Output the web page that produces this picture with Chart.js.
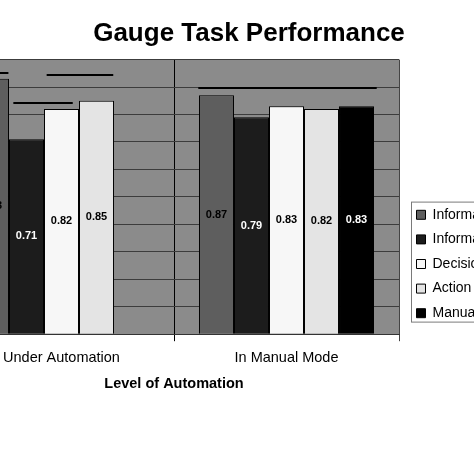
<!DOCTYPE html>
<html>
<head>
<meta charset="utf-8">
<script src="https://cdn.jsdelivr.net/npm/chart.js@4.4.1/dist/chart.umd.min.js"></script>
<style>
  html, body { margin: 0; padding: 0; background: #fff; overflow: hidden; width: 474px; height: 474px; }
  #wrap { position: relative; width: 474px; height: 474px; overflow: hidden; }
  #c { position: absolute; left: -51px; top: 0; }
</style>
</head>
<body>
<div id="wrap"><canvas id="c" width="600" height="474"></canvas></div>
<script>
// ---- data ----
const categories = ['Under Automation', 'In Manual Mode'];
const seriesNames = ['Information Acquisition', 'Information Analysis', 'Decision Selection', 'Action Implementation', 'Manual'];
const infoAcquisition = [0.93, 0.87];
const infoAnalysis = [0.71, 0.79];
const decisionSelection = [0.82, 0.83];
const actionImplementation = [0.85, 0.82];
const manualControl = [null, 0.83];
const yTicksMin = 0;
const yTicksMax = 1;
const yTickStep = 0.1;
// significance lines: x in category-index units, y in value units
const sigStartX = [-0.40, -0.066, -0.214, 0.608];
const sigEndX = [-0.236, 0.230, 0.050, 1.401];
const sigLevelY = [0.951, 0.944, 0.842, 0.897];

const FONT = "'Liberation Sans', Arial, Helvetica, sans-serif";
Chart.defaults.font.family = FONT;
Chart.defaults.color = '#000';

const barFill = ['#5e5e5e', '#1c1c1c', '#f7f7f7', '#e4e4e4', '#000000'];
const labelInk = ['#000', '#fff', '#000', '#000', '#fff'];
const barValues = [infoAcquisition, infoAnalysis, decisionSelection, actionImplementation, manualControl];

const datasets = barValues.map((vals, i) => ({
  label: seriesNames[i],
  data: vals,
  backgroundColor: barFill[i],
  borderColor: '#000',
  borderWidth: 1,
  categoryPercentage: 0.778,
  barPercentage: 1.0,
  labelInk: labelInk[i]
}));

const plotBg = {
  id: 'plotBg',
  beforeDraw(chart) {
    const { ctx, chartArea: a } = chart;
    ctx.save();
    ctx.fillStyle = '#8b8b8b';
    ctx.fillRect(a.left, a.top, a.right - a.left, a.bottom - a.top);
    ctx.restore();
  }
};

const sigLines = {
  id: 'sigLines',
  afterDatasetsDraw(chart) {
    const { ctx } = chart;
    const xs = chart.scales.x, ys = chart.scales.y;
    const n = categories.length;
    const px = (u) => xs.getPixelForDecimal((u + 0.5) / n);
    ctx.save();
    ctx.strokeStyle = '#000';
    ctx.lineWidth = 2;
    sigLevelY.forEach((yv, i) => {
      const y = ys.getPixelForValue(yv);
      ctx.beginPath();
      ctx.moveTo(px(sigStartX[i]), y);
      ctx.lineTo(px(sigEndX[i]), y);
      ctx.stroke();
    });
    ctx.restore();
  }
};

const legendPlace = {
  id: 'legendPlace',
  afterLayout(chart) {
    const lg = chart.legend, a = chart.chartArea;
    const pad = lg.options.labels.padding;
    const w = lg.width;
    lg.left = a.right + 17.5 - pad;
    lg.right = lg.left + w;
    lg.top = a.top + 137.6;
    lg.bottom = lg.top + 140;
  },
  afterDraw(chart) {
    const { ctx, chartArea: a } = chart;
    ctx.save();
    ctx.strokeStyle = '#7a7a7a';
    ctx.lineWidth = 1;
    ctx.strokeRect(a.right + 12.5, a.top + 142.5, 200, 120);
    ctx.restore();
  }
};

const barLabels = {
  id: 'barLabels',
  afterDatasetsDraw(chart) {
    const { ctx } = chart;
    ctx.save();
    ctx.font = 'bold 11px ' + FONT;
    ctx.textAlign = 'center';
    ctx.textBaseline = 'middle';
    chart.data.datasets.forEach((ds, i) => {
      const meta = chart.getDatasetMeta(i);
      meta.data.forEach((bar, j) => {
        const v = ds.data[j];
        if (v === null || v === undefined) return;
        ctx.fillStyle = ds.labelInk;
        ctx.fillText(v.toFixed(2), bar.x, (bar.y + bar.base) / 2);
      });
    });
    ctx.restore();
  }
};

new Chart(document.getElementById('c'), {
  type: 'bar',
  data: { labels: categories, datasets },
  options: {
    responsive: false,
    animation: false,
    devicePixelRatio: 1,
    layout: { padding: { left: 0, right: 0, top: 0, bottom: 81 } },
    plugins: {
      title: {
        display: true,
        text: 'Gauge Task Performance',
        color: '#000',
        font: { size: 26, weight: 'bold' },
        padding: { top: 18, bottom: 10.4 }
      },
      legend: {
        position: 'right',
        align: 'start',
        maxWidth: 150,
        labels: {
          boxWidth: 9,
          boxHeight: 9,
          padding: 10.6,
          color: '#000',
          font: { size: 14 }
        }
      },
      tooltip: { enabled: false }
    },
    scales: {
      x: {
        type: 'category',
        offset: true,
        grid: {
          offset: true,
          color: (c) => (c.index === 1 ? '#000' : '#444'),
          lineWidth: 1,
          tickLength: 7
        },
        border: { display: true, color: '#333' },
        ticks: { color: '#000', font: { size: 14.5 }, padding: 8, maxRotation: 0 },
        title: {
          display: true,
          text: 'Level of Automation',
          color: '#000',
          font: { size: 14.5, weight: 'bold' },
          padding: { top: 1, bottom: 0 }
        }
      },
      y: {
        min: yTicksMin,
        max: yTicksMax,
        ticks: { display: false, stepSize: yTickStep },
        grid: { color: '#3c3c3c', drawTicks: false, lineWidth: 1 },
        border: { display: false },
        afterFit: (s) => { s.width = 0; }
      }
    }
  },
  plugins: [plotBg, sigLines, legendPlace, barLabels]
});
</script>
</body>
</html>
